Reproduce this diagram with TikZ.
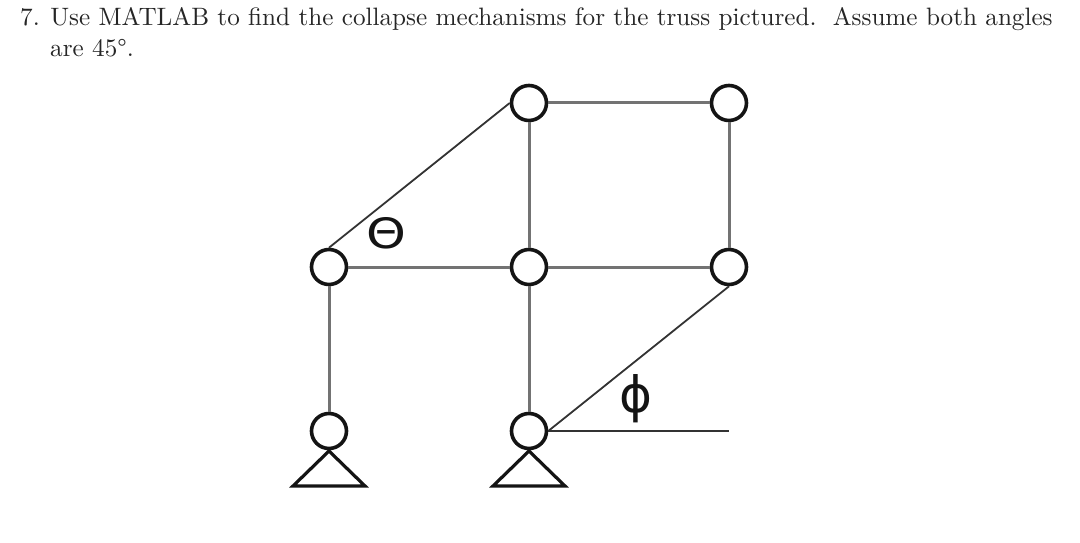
\documentclass[tikz,border=0pt]{standalone}
\usepackage{graphicx}
\usepackage{fontspec}
\newfontfamily\symfont{DejaVu Sans}
\definecolor{memb}{gray}{0.45}
\definecolor{ink}{gray}{0.08}
\newcommand{\bodytext}[1]{\scalebox{2.516}{\fontsize{10}{12}\selectfont #1}}
\tikzset{
  joint/.style={circle,draw=ink,line width=3.6pt,fill=white,minimum size=35pt,inner sep=0pt},
  member/.style={draw=memb,line width=3pt},
  thinbar/.style={draw=black!80,line width=1.8pt},
  support/.style={draw=ink,line width=3.2pt,line join=miter},
  angle label/.style={inner sep=0pt,text=ink},
  prose/.style={anchor=base west,inner sep=0pt,text=black!85}
}
\begin{document}
\begin{tikzpicture}[x=1pt,y=-1pt]
\useasboundingbox (0,0) rectangle (1080,543);
\fill[white] (0,0) rectangle (1080,543);
\node[prose] (l1) at (20,26) {\bodytext{7.\hspace{0.42em}Use MATLAB to find the collapse mechanisms for the truss pictured.\hspace{0.2em} Assume both angles}};
\node[prose] (l2) at (50,57) {\bodytext{are 45\textdegree.}};
% supports
\coordinate (s1a) at (329,451); \coordinate (s1l) at (293,486); \coordinate (s1r) at (365,486);
\coordinate (s2a) at (529,451); \coordinate (s2l) at (493,486); \coordinate (s2r) at (565,486);
\draw[support] (s1a) -- (s1r) -- (s1l) -- cycle;
\draw[support] (s2a) -- (s2r) -- (s2l) -- cycle;
% joints
\node[joint] (a) at (329,431) {};
\node[joint] (b) at (529,431) {};
\node[joint] (c) at (329,267) {};
\node[joint] (d) at (529,267) {};
\node[joint] (e) at (729,267) {};
\node[joint] (f) at (529,103) {};
\node[joint] (g) at (729,103) {};
\coordinate (hend) at (729,431);
% members
\draw[member] (a) -- (c);
\draw[member] (b) -- (d);
\draw[member] (d) -- (f);
\draw[member] (e) -- (g);
\draw[member] (c) -- (d);
\draw[member] (d) -- (e);
\draw[member] (f) -- (g);
\draw[thinbar] (c.north) -- (f.west);
\draw[thinbar] (b.east) -- (e.south);
\draw[thinbar] (b.east) -- (hend);
% angles
\node[angle label] (theta) at (386,233) {\scalebox{1.15}[0.95]{\symfont\fontsize{44}{44}\selectfont Θ}};
\node[angle label] (phi) at (636,399) {\symfont\fontsize{50}{50}\selectfont ϕ};
\end{tikzpicture}
\end{document}
